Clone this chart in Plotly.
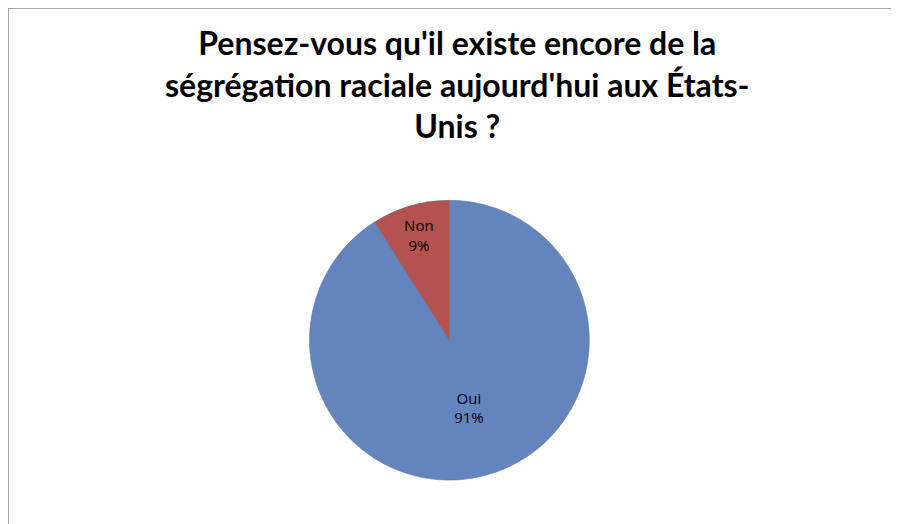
import plotly.graph_objects as go

labels = ["Oui", "Non"]
values = [91, 9]
colors = ["#6384BC", "#B5524F"]

title_lines = [
    "Pensez-vous qu'il existe encore de la",
    "ségrégation raciale aujourd'hui aux États-",
    "Unis ?",
]

fig = go.Figure(
    go.Pie(
        labels=labels,
        values=values,
        sort=False,
        direction="clockwise",
        rotation=0,
        marker=dict(colors=colors, line=dict(color="#5a6f94", width=0.5)),
        textinfo="label+percent",
        texttemplate="%{label}<br>%{percent:.0%}",
        textposition="inside",
        insidetextorientation="horizontal",
        textfont=dict(family="Open Sans, sans-serif", size=15, color="black"),
        showlegend=False,
        domain=dict(x=[0.291, 0.691], y=[0.099, 0.633]),
        hoverinfo="label+percent",
    )
)

fig.add_annotation(
    text="<br>".join(title_lines),
    x=0.5, y=0.975, xref="paper", yref="paper",
    xanchor="center", yanchor="top", showarrow=False,
    font=dict(family="Lato, Open Sans, sans-serif", size=32, color="black", weight="bold"),
    align="center",
)

fig.add_shape(
    type="rect", xref="paper", yref="paper", x0=0, y0=0, x1=1, y1=1,
    line=dict(color="#8c8c8c", width=1.5),
)

fig.update_layout(
    width=899, height=524,
    margin=dict(l=0, r=0, t=0, b=0),
    paper_bgcolor="white",
    plot_bgcolor="white",
)

fig.write_html("out.html")
